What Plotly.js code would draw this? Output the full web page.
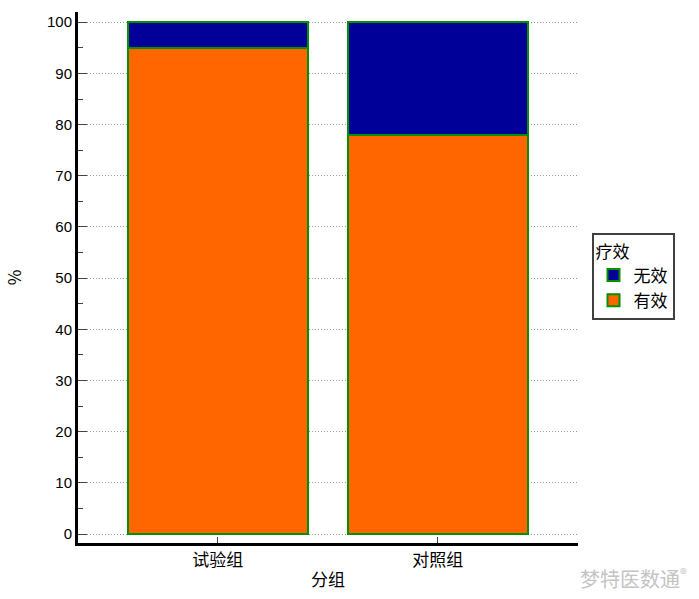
<!DOCTYPE html>
<html><head><meta charset="utf-8">
<script src="https://cdn.plot.ly/plotly-3.0.1.min.js"></script>
<style>body{margin:0;padding:0;background:#fff}#chart{width:699px;height:599px}</style>
</head><body><div id="chart"></div>
<script>
const groups = ["试验组", "对照组"];
const effective = [95, 78];
const ineffective = [5, 22];
const seriesNames = ["有效", "无效"];
const legendTitle = "疗效";
const xTitle = "分组";
const yTitle = "%";

const cjk = '"Noto Sans CJK SC", "Liberation Sans", Arial, sans-serif';
const traces = [
  {type:'bar', name:seriesNames[0], x:groups, y:effective, width:0.82,
   marker:{color:'#FF6600', line:{color:'#009000', width:2}}, hoverinfo:'x+y+name'},
  {type:'bar', name:seriesNames[1], x:groups, y:ineffective, width:0.82,
   marker:{color:'#000099', line:{color:'#009000', width:2}}, hoverinfo:'x+y+name'}
];
const layout = {
  width:699, height:599,
  margin:{l:78, r:121, t:12, b:56},
  barmode:'stack',
  paper_bgcolor:'#fff', plot_bgcolor:'#fff',
  font:{family:cjk, color:'#000', size:15},
  showlegend:true,
  legend:{title:{text:legendTitle, font:{size:17}}, traceorder:'reversed',
    x:1.027, xanchor:'left', y:0.583, yanchor:'top',
    bordercolor:'#404040', borderwidth:2, font:{size:17}, tracegroupgap:0,
    itemsizing:'constant', itemwidth:30},
  xaxis:{range:[-0.635, 1.637], showline:true, linecolor:'#000', linewidth:3,
    ticks:'inside', ticklen:6, tickcolor:'#444', tickwidth:1,
    tickfont:{family:cjk, size:17}, showgrid:false, zeroline:false,
    title:{text:xTitle, font:{family:cjk, size:17}, standoff:4}},
  yaxis:{range:[-1.75, 102], showline:true, linecolor:'#000', linewidth:3,
    tickmode:'array', tickvals:[0,10,20,30,40,50,60,70,80,90,100],
    ticks:'inside', ticklen:9, tickcolor:'#444', tickwidth:1,
    minor:{tickmode:'array', tickvals:[5,15,25,35,45,55,65,75,85,95], ticks:'inside', ticklen:5, tickcolor:'#444', tickwidth:1, showgrid:false},
    tickfont:{family:'"Liberation Sans", Arial, sans-serif', size:15},
    showgrid:true, gridcolor:'#999', griddash:'1px,2px', gridwidth:1, zeroline:false,
    title:{text:yTitle, font:{family:cjk, size:17}, standoff:22}},
  annotations:[{text:'梦特医数通<sup>®</sup>', xref:'paper', yref:'paper', x:1.222, y:-0.066,
    xanchor:'right', yanchor:'middle', showarrow:false, font:{family:cjk, size:20, color:'#c4c4c4'}}]
};
Plotly.newPlot('chart', traces, layout, {displayModeBar:false, staticPlot:true});
</script></body></html>
